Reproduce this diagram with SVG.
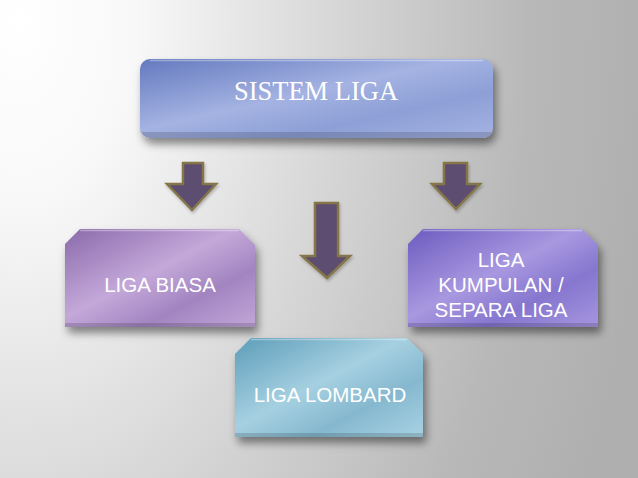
<svg xmlns="http://www.w3.org/2000/svg" width="638" height="478" viewBox="0 0 638 478">
<defs>
<radialGradient id="bg" gradientUnits="userSpaceOnUse" cx="20" cy="20" r="640" gradientTransform="translate(20 20) scale(1 1.6) translate(-20 -20)">
<stop offset="0" stop-color="#ffffff"/>
<stop offset="0.18" stop-color="#f8f8f8"/>
<stop offset="0.5" stop-color="#d6d6d6"/>
<stop offset="0.8" stop-color="#b8b8b8"/>
<stop offset="1" stop-color="#afafaf"/>
</radialGradient>
<linearGradient id="gBlue" x1="0" y1="0" x2="1" y2="1">
<stop offset="0" stop-color="#6479bf"/>
<stop offset="0.45" stop-color="#a4b3e2"/>
<stop offset="0.7" stop-color="#8d9fd6"/>
<stop offset="1" stop-color="#a5b3e3"/>
</linearGradient>
<linearGradient id="gPurple" x1="0" y1="0" x2="1" y2="1">
<stop offset="0" stop-color="#8a6aab"/>
<stop offset="0.45" stop-color="#c4a8d9"/>
<stop offset="0.7" stop-color="#a285c0"/>
<stop offset="1" stop-color="#c2a6d8"/>
</linearGradient>
<linearGradient id="gViolet" x1="0" y1="0" x2="1" y2="1">
<stop offset="0" stop-color="#6c5bbf"/>
<stop offset="0.45" stop-color="#a898e0"/>
<stop offset="0.7" stop-color="#8676cf"/>
<stop offset="1" stop-color="#a696df"/>
</linearGradient>
<linearGradient id="gTeal" x1="0" y1="0" x2="1" y2="1">
<stop offset="0" stop-color="#5c9db9"/>
<stop offset="0.45" stop-color="#a6d0e1"/>
<stop offset="0.7" stop-color="#85b8cf"/>
<stop offset="1" stop-color="#a8d2e3"/>
</linearGradient>
<filter id="sh" x="-20%" y="-20%" width="140%" height="160%">
<feDropShadow dx="3" dy="6" stdDeviation="4" flood-color="#000" flood-opacity="0.45"/>
</filter>
<filter id="ash" x="-30%" y="-30%" width="160%" height="160%">
<feDropShadow dx="1" dy="2" stdDeviation="1.5" flood-color="#000" flood-opacity="0.25"/>
</filter>
<style>
.lbl{font-family:"Liberation Sans","Open Sans",sans-serif;font-size:20.5px;fill:#ffffff;text-anchor:middle}
.ttl{font-family:"Liberation Serif","Times New Roman",serif;font-size:26.5px;fill:#ffffff;text-anchor:middle}
.arr{fill:#5c4e71;stroke:#857649;stroke-width:2.5;stroke-linejoin:miter}
.hl{fill:none;stroke:#ffffff;stroke-opacity:0.35;stroke-width:1.5}
.dk{fill:#000000;fill-opacity:0.15}
</style>
</defs>
<rect x="0" y="0" width="638" height="478" fill="url(#bg)"/>

<g id="connectors" filter="url(#ash)">
<path class="arr" d="M183 163 H203 V184 H216 L192 210 L167 184 H183 Z"/>
<path class="arr" d="M315 203 H338 V256 H350 L327 278 L302 256 H315 Z"/>
<path class="arr" d="M444 163 H467 V184 H480 L456 209 L432 184 H444 Z"/>
</g>

<g id="sistem-liga">
<rect x="140" y="59" width="353" height="79" rx="10" fill="url(#gBlue)" filter="url(#sh)"/>
<path class="hl" d="M150 60.5 H483"/>
<path class="dk" d="M140 132 H493 V128 A10 10 0 0 1 483 138 H150 A10 10 0 0 1 140 128 Z"/>
<text class="ttl" x="316" y="100">SISTEM LIGA</text>
</g>

<g id="liga-biasa">
<path d="M65 244 L80 229 H239 L255 245 V327 H65 Z" fill="url(#gPurple)" filter="url(#sh)"/>
<path class="hl" d="M80 230.5 H239"/>
<rect class="dk" x="65" y="323" width="190" height="4"/>
<text class="lbl" x="160" y="292">LIGA BIASA</text>
</g>

<g id="liga-kumpulan">
<path d="M408 244 L423 229 H582 L598 245 V327 H408 Z" fill="url(#gViolet)" filter="url(#sh)"/>
<path class="hl" d="M423 230.5 H582"/>
<rect class="dk" x="408" y="323" width="190" height="4"/>
<text class="lbl" x="501" y="267">LIGA</text>
<text class="lbl" x="501" y="292">KUMPULAN /</text>
<text class="lbl" x="501" y="317">SEPARA LIGA</text>
</g>

<g id="liga-lombard">
<path d="M235 354 L251 338 H407 L423 354 V437 H235 Z" fill="url(#gTeal)" filter="url(#sh)"/>
<path class="hl" d="M251 339.5 H407"/>
<rect class="dk" x="235" y="433" width="188" height="4"/>
<text class="lbl" x="330" y="402">LIGA LOMBARD</text>
</g>
</svg>
